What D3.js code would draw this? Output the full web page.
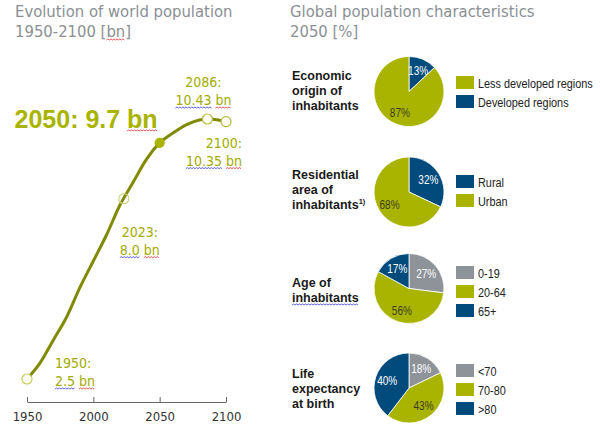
<!DOCTYPE html>
<html>
<head>
<meta charset="utf-8">
<script src="https://cdn.jsdelivr.net/npm/d3@7"></script>
<style>
  body { margin: 0; background: #fff; }
  svg { display: block; }
</style>
</head>
<body>
<script>
const width = 600;
const height = 429;

// world population curve [bn]
const popYears = [1950, 1960, 1970, 1980, 1990, 2000, 2010, 2020, 2030, 2040, 2050, 2060, 2070, 2080, 2086, 2090, 2100];
const popValues = [2.5, 3.0, 3.7, 4.4, 5.3, 6.1, 6.9, 7.8, 8.5, 9.2, 9.7, 10.0, 10.25, 10.4, 10.43, 10.42, 10.35];

// highlighted points
const markerYears = [1950, 2023, 2050, 2086, 2100];
const markerValues = [2.5, 8.0, 9.7, 10.43, 10.35];
const markerLines = [["1950:", "2.5 bn"], ["2023:", "8.0 bn"], ["2050: 9.7 bn"], ["2086:", "10.43 bn"], ["2100:", "10.35 bn"]];

const xTicks = [1950, 2000, 2050, 2100];

// pie charts, 2050 [%]
const pieTitles = [
  ["Economic", "origin of", "inhabitants"],
  ["Residential", "area of", "inhabitants"],
  ["Age of", "inhabitants"],
  ["Life", "expectancy", "at birth"]
];
const pieLabels = [
  ["Developed regions", "Less developed regions"],
  ["Rural", "Urban"],
  ["0-19", "20-64", "65+"],
  ["<70", "70-80", ">80"]
];
const pieValues = [
  [13, 87],
  [32, 68],
  [27, 56, 17],
  [18, 43, 40]
];
const legendLabels = [
  ["Less developed regions", "Developed regions"],
  ["Rural", "Urban"],
  ["0-19", "20-64", "65+"],
  ["<70", "70-80", ">80"]
];

const navy = "#004a7c";
const olive = "#a9b400";
const grey = "#8e939a";
const sliceColor = d3.scaleOrdinal()
  .domain(["Developed regions", "Less developed regions", "Rural", "Urban", "0-19", "20-64", "65+", "<70", "70-80", ">80"])
  .range([navy, olive, navy, olive, grey, olive, navy, grey, olive, navy]);

const condensed = "'DejaVu Sans Condensed', 'DejaVu Sans', sans-serif";
const arial = "'Liberation Sans', Arial, sans-serif";
const narrowScale = 0.805; // squeeze Liberation Sans to look like a narrow face

const svg = d3.select("body").append("svg")
  .attr("width", width)
  .attr("height", height);

// small spell-check style wavy underline
function wavy(x1, x2, y, color) {
  let d = `M${x1},${y}`;
  let up = true;
  for (let x = x1 + 1.5; x <= x2; x += 1.5) {
    d += `L${x},${up ? y - 1 : y}`;
    up = !up;
  }
  svg.append("path").attr("d", d).attr("fill", "none")
    .attr("stroke", color).attr("stroke-width", 0.8);
}

// underline the characters [a, b) of a text node
function underlineChars(textNode, a, b, color) {
  const el = textNode.node();
  const s = el.getStartPositionOfChar(a);
  const e = el.getEndPositionOfChar(b - 1);
  wavy(s.x, e.x, s.y + 3, color);
}

// ---------- left: population curve ----------
svg.append("text").attr("x", 15).attr("y", 17)
  .attr("font-family", condensed).attr("font-size", 16.5).attr("fill", "#8b8f95")
  .text("Evolution of world population");
const leftSub = svg.append("text").attr("x", 15).attr("y", 37)
  .attr("font-family", condensed).attr("font-size", 16.5).attr("fill", "#8b8f95")
  .text("1950-2100 [bn]");
underlineChars(leftSub, 11, 13, "#e03030");

const x = d3.scaleLinear().domain([1950, 2100]).range([27, 226]);
const y = d3.scaleLinear().domain([2.5, 10.43]).range([379, 119]);

const axis = svg.append("g")
  .attr("transform", "translate(0,402)")
  .call(d3.axisBottom(x).tickValues(xTicks).tickFormat(d3.format("d"))
    .tickSizeInner(-5).tickSizeOuter(0).tickPadding(10));
axis.select(".domain").attr("stroke", "#666");
axis.selectAll(".tick line").attr("stroke", "#666");
axis.selectAll(".tick text")
  .attr("font-family", condensed).attr("font-size", 13).attr("fill", "#333");

const popLine = d3.line()
  .x((d, i) => x(popYears[i]))
  .y((d) => y(d))
  .curve(d3.curveMonotoneX);

svg.append("path")
  .datum(popValues)
  .attr("d", popLine)
  .attr("fill", "none")
  .attr("stroke", "#808a00")
  .attr("stroke-width", 3)
  .attr("stroke-linecap", "round");

// marker styles: open / filled
const markerFill = ["#fff", "none", olive, "#fff", "#fff"];
const markerStroke = ["#c7cc5a", "#cfd38a", olive, "#b3ba3c", "#b3ba3c"];
svg.selectAll(".marker")
  .data(markerValues)
  .enter()
  .append("circle")
  .attr("class", "marker")
  .attr("cx", (d, i) => x(markerYears[i]))
  .attr("cy", (d) => y(d))
  .attr("r", (d, i) => (i === 2 ? 4.5 : 5))
  .attr("fill", (d, i) => markerFill[i])
  .attr("stroke", (d, i) => markerStroke[i])
  .attr("stroke-width", 1.2);

// annotation placement relative to each marker
const annDx = [28, 16, -2, -4, 16];
const annDy = [-11, 38, -15, -32, 26];
const annAnchor = ["start", "middle", "end", "middle", "end"];
const annColor = "#a2ab00";

markerLines.forEach((lines, i) => {
  const px = x(markerYears[i]) + annDx[i];
  const py = y(markerValues[i]) + annDy[i];
  lines.forEach((txt, j) => {
    const big = i === 2;
    const t = svg.append("text")
      .attr("x", px)
      .attr("y", py + j * 18)
      .attr("text-anchor", annAnchor[i])
      .attr("font-family", big ? arial : condensed)
      .attr("font-weight", big ? "bold" : "normal")
      .attr("font-size", big ? 25 : 14)
      .attr("fill", big ? olive : annColor)
      .text(txt);
    // spell-check marks under the numbers and "bn"
    const bn = txt.indexOf("bn");
    if (bn >= 0) {
      underlineChars(t, bn, bn + 2, "#e03030");
      if (!big) underlineChars(t, 0, bn - 1, "#3a3ae0");
    }
  });
});

// ---------- right: pie charts ----------
svg.append("text").attr("x", 290).attr("y", 17)
  .attr("font-family", condensed).attr("font-size", 16.5).attr("fill", "#8b8f95")
  .text("Global population characteristics");
svg.append("text").attr("x", 290).attr("y", 37)
  .attr("font-family", condensed).attr("font-size", 16.5).attr("fill", "#8b8f95")
  .text("2050 [%]");

const pieCy = [91.5, 192, 288.5, 388];
const titleY = [80, 179, 287, 378];
const legendY = [76, 175, 266, 364];
const radius = 35;

const pie = d3.pie().sort(null).value((d) => d);
const arc = d3.arc().innerRadius(0).outerRadius(radius);
const labelArc = d3.arc().innerRadius(46).outerRadius(0);

pieValues.forEach((vals, p) => {
  const g = svg.append("g").attr("transform", `translate(409,${pieCy[p]})`);
  const arcs = pie(vals);

  g.selectAll("path")
    .data(arcs)
    .enter()
    .append("path")
    .attr("d", arc)
    .attr("fill", (d, i) => sliceColor(pieLabels[p][i]))
    .attr("stroke", "#fff")
    .attr("stroke-width", 0.8);

  g.selectAll("text")
    .data(arcs)
    .enter()
    .append("text")
    .attr("transform", (d) => `translate(${labelArc.centroid(d)}) scale(${narrowScale},1)`)
    .attr("text-anchor", "middle")
    .attr("dy", "0.35em")
    .attr("font-family", arial)
    .attr("font-size", 12.5)
    .attr("fill", (d, i) => (sliceColor(pieLabels[p][i]) === olive ? "#3d3d20" : "#fff"))
    .text((d) => d.data + "%");

  // bold row title
  const titleLines = pieTitles[p];
  titleLines.forEach((line, j) => {
    const t = svg.append("text")
      .attr("x", 292)
      .attr("y", titleY[p] + j * 15)
      .attr("font-family", arial)
      .attr("font-weight", "bold")
      .attr("font-size", 12.5)
      .attr("fill", "#1a1a1a")
      .text(line);
    if (p === 1 && j === 2) {
      t.append("tspan").attr("font-size", 7.5).attr("dy", -5).text("1)");
    }
    if (p === 2 && j === 1) underlineChars(t, 0, line.length, "#3a3ae0");
  });

  // legend
  const leg = svg.append("g").attr("transform", `translate(456,${legendY[p]})`);
  const items = leg.selectAll("g")
    .data(legendLabels[p])
    .enter()
    .append("g")
    .attr("transform", (d, i) => `translate(0,${i * 19})`);
  items.append("rect")
    .attr("width", 18)
    .attr("height", 13)
    .attr("fill", (d) => sliceColor(d));
  items.append("text")
    .attr("transform", `translate(22,11.5) scale(${narrowScale},1)`)
    .attr("font-family", arial)
    .attr("font-size", 13.5)
    .attr("fill", "#222")
    .text((d) => d);
});
</script>
</body>
</html>
